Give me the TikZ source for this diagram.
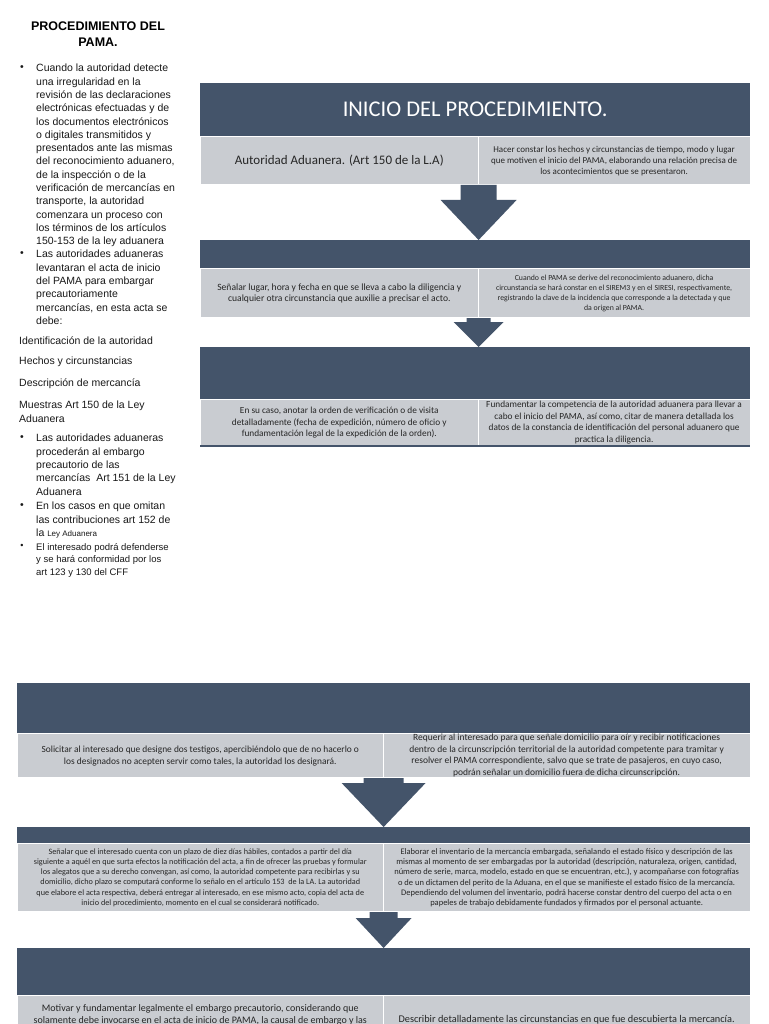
\documentclass[tikz,border=0pt]{standalone}
\usepackage{fontspec}
\setmainfont{Liberation Sans}
\newfontfamily\calibrifont{Carlito}
\usetikzlibrary{calc,positioning}
\definecolor{slate}{RGB}{68,84,106}
\definecolor{paneGray}{RGB}{201,204,209}
\definecolor{inkGray}{RGB}{38,38,38}

\newcommand{\blockarrow}[5]{%
\fill[slate] ($(#1)+(-#3,0)$) -- ($(#2)+(-#3,-#5)$) -- ($(#2)+(-#4,-#5)$) -- (#2) -- ($(#2)+(#4,-#5)$) -- ($(#2)+(#3,-#5)$) -- ($(#1)+(#3,0)$) -- cycle;}

\begin{document}
\begin{tikzpicture}[x=1pt, y=-1pt,
  hdr/.style={fill=slate, draw=none, inner sep=0pt, anchor=north west, text=white, font=\calibrifont\fontsize{22.5}{27}\selectfont},
  pane/.style={fill=paneGray, draw=white, line width=0.6pt, inner sep=0pt, align=center, text=inkGray},
  panetext/.style={inner sep=0pt, align=center, text=inkGray},
  lefttext/.style={anchor=north west, align=left, inner sep=0pt, text=black!90, font=\fontsize{10.5}{13.3}\selectfont},
  dot/.style={inner sep=0pt, text=black!90, font=\fontsize{10.5}{13.3}\selectfont}]
\fill[white] (0,0) rectangle (768,1024);
\useasboundingbox (0,0) rectangle (768,1024);

\node[anchor=north, align=center, inner sep=0pt, font=\bfseries\fontsize{12.5}{16}\selectfont] (title) at (98,22) {PROCEDIMIENTO DEL\\PAMA.};

\node[dot] (dot1) at (22,68) {•};
\node[lefttext] (bul1) at (36,64) {Cuando la autoridad detecte\\una irregularidad en la\\revisión de las declaraciones\\electrónicas efectuadas y de\\los documentos electrónicos\\o digitales transmitidos y\\presentados ante las mismas\\del reconocimiento aduanero,\\de la inspección o de la\\verificación de mercancías en\\transporte, la autoridad\\comenzara un proceso con\\los términos de los artículos\\150-153 de la ley aduanera};
\node[dot] (dot2) at (22,254) {•};
\node[lefttext] (bul2) at (36,250) {Las autoridades aduaneras\\levantaran el acta de inicio\\del PAMA para embargar\\precautoriamente\\mercancías, en esta acta se\\debe:};

\node[lefttext] (ident) at (19,337) {Identificación de la autoridad};
\node[lefttext] (hechos) at (19,357) {Hechos y circunstancias};
\node[lefttext] (descr) at (19,379) {Descripción de mercancía};
\node[lefttext] (muestras) at (19,401) {Muestras Art 150 de la Ley\\Aduanera};

\node[dot] (dot3) at (22,438) {•};
\node[lefttext] (bul3) at (36,434) {Las autoridades aduaneras\\procederán al embargo\\precautorio de las\\mercancías\ \ Art 151 de la Ley\\Aduanera};
\node[dot] (dot4) at (22,506) {•};
\node[lefttext] (bul4) at (36,502) {En los casos en que omitan\\las contribuciones art 152 de\\la {\fontsize{8}{13.3}\selectfont Ley Aduanera}};
\node[dot, font=\fontsize{9}{12}\selectfont] (dot5) at (22,546) {•};
\node[lefttext, font=\fontsize{9.5}{12.5}\selectfont] (bul5) at (36,543) {El interesado podrá defenderse\\y se hará conformidad por los\\art 123 y 130 del CFF};

\node[hdr, minimum width=550, minimum height=53] (hdr1) at (200,83) {INICIO DEL PROCEDIMIENTO.};
\node[pane, minimum width=278, minimum height=48, anchor=north west, font=\calibrifont\fontsize{13}{15}\selectfont] (c1l) at (hdr1.south west) {Autoridad Aduanera. (Art 150 de la L.A)};
\node[pane, minimum width=272, minimum height=48, anchor=north east, font=\calibrifont\fontsize{9}{11}\selectfont] (c1r) at (hdr1.south east) {Hacer constar los hechos y circunstancias de tiempo, modo y lugar\\que motiven el inicio del PAMA, elaborando una relación precisa de\\los acontecimientos que se presentaron.};

\node[hdr, minimum width=550, minimum height=28] (hdr2) at (200,240) {};
\node[pane, minimum width=278, minimum height=49, anchor=north west, font=\calibrifont\fontsize{9.6}{11}\selectfont] (c2l) at (hdr2.south west) {Señalar lugar, hora y fecha en que se lleva a cabo la diligencia y\\cualquier otra circunstancia que auxilie a precisar el acto.};
\node[pane, minimum width=272, minimum height=49, anchor=north east, font=\calibrifont\fontsize{7.8}{10}\selectfont] (c2r) at (hdr2.south east) {Cuando el PAMA se derive del reconocimiento aduanero, dicha\\circunstancia se hará constar en el SIREM3 y en el SIRESI, respectivamente,\\registrando la clave de la incidencia que corresponde a la detectada y que\\da origen al PAMA.};

\node[hdr, minimum width=550, minimum height=52] (hdr3) at (200,347) {};
\node[pane, minimum width=278, minimum height=46, anchor=north west, font=\calibrifont\fontsize{9.3}{11.5}\selectfont] (c3l) at (hdr3.south west) {En su caso, anotar la orden de verificación o de visita\\detalladamente (fecha de expedición, número de oficio y\\fundamentación legal de la expedición de la orden).};
\node[pane, minimum width=272, minimum height=46, anchor=north east, font=\calibrifont\fontsize{9.3}{11.5}\selectfont] (c3r) at (hdr3.south east) {Fundamentar la competencia de la autoridad aduanera para llevar a\\cabo el inicio del PAMA, así como, citar de manera detallada los\\datos de la constancia de identificación del personal aduanero que\\practica la diligencia.};
\draw[slate, line width=2pt] (c3l.south west) -- (c3r.south east);

\coordinate (a1s) at (c1l.south east);
\coordinate (a1e) at (c1l.south east |- hdr2.north);
\blockarrow{a1s}{a1e}{18}{38}{40}
\coordinate (a2s) at (c2l.south east);
\coordinate (a2e) at (c2l.south east |- hdr3.north);
\blockarrow{a2s}{a2e}{12}{25}{25}

\node[hdr, minimum width=733, minimum height=50] (hdr4) at (17,683) {};
\node[pane, minimum width=366, minimum height=44, anchor=north west, font=\calibrifont\fontsize{9.4}{12}\selectfont] (c4l) at (hdr4.south west) {Solicitar al interesado que designe dos testigos, apercibiéndolo que de no hacerlo o\\los designados no acepten servir como tales, la autoridad los designará.};
\node[pane, minimum width=367, minimum height=44, anchor=north east, font=\calibrifont\fontsize{9.5}{11.5}\selectfont] (c4r) at (hdr4.south east) {Requerir al interesado para que señale domicilio para oír y recibir notificaciones\\dentro de la circunscripción territorial de la autoridad competente para tramitar y\\resolver el PAMA correspondiente, salvo que se trate de pasajeros, en cuyo caso,\\podrán señalar un domicilio fuera de dicha circunscripción.};

\node[hdr, minimum width=733, minimum height=16] (hdr5) at (17,827) {};
\node[pane, minimum width=366, minimum height=68, anchor=north west, font=\calibrifont\fontsize{8.2}{10.2}\selectfont] (c5l) at (hdr5.south west) {Señalar que el interesado cuenta con un plazo de diez días hábiles, contados a partir del día\\siguiente a aquél en que surta efectos la notificación del acta, a fin de ofrecer las pruebas y formular\\los alegatos que a su derecho convengan, así como, la autoridad competente para recibirlas y su\\domicilio, dicho plazo se computará conforme lo señalo en el artículo 153\ \ de la LA. La autoridad\\que elabore el acta respectiva, deberá entregar al interesado, en ese mismo acto, copia del acta de\\inicio del procedimiento, momento en el cual se considerará notificado.};
\node[pane, minimum width=367, minimum height=68, anchor=north east, font=\calibrifont\fontsize{8.5}{10.2}\selectfont] (c5r) at (hdr5.south east) {Elaborar el inventario de la mercancía embargada, señalando el estado físico y descripción de las\\mismas al momento de ser embargadas por la autoridad (descripción, naturaleza, origen, cantidad,\\número de serie, marca, modelo, estado en que se encuentran, etc.), y acompañarse con fotografías\\o de un dictamen del perito de la Aduana, en el que se manifieste el estado físico de la mercancía.\\Dependiendo del volumen del inventario, podrá hacerse constar dentro del cuerpo del acta o en\\papeles de trabajo debidamente fundados y firmados por el personal actuante.};

\node[hdr, minimum width=733, minimum height=47] (hdr6) at (17,948) {};
\node[pane, minimum width=366, minimum height=54, anchor=north west] (c6l) at (hdr6.south west) {};
\node[panetext, anchor=north, font=\calibrifont\fontsize{10}{12}\selectfont] (t6l) at ([yshift=-9pt]c6l.north) {Motivar y fundamentar legalmente el embargo precautorio, considerando que\\solamente debe invocarse en el acta de inicio de PAMA, la causal de embargo y las};
\node[pane, minimum width=367, minimum height=54, anchor=north east] (c6r) at (hdr6.south east) {};
\node[panetext, font=\calibrifont\fontsize{10.3}{12}\selectfont] (t6r) at ([yshift=-24pt]c6r.north) {Describir detalladamente las circunstancias en que fue descubierta la mercancía.};

\coordinate (a3s) at (c4l.south east);
\coordinate (a3e) at (c4l.south east |- hdr5.north);
\blockarrow{a3s}{a3e}{20}{42}{44}
\coordinate (a4s) at (c5l.south east);
\coordinate (a4e) at (c5l.south east |- hdr6.north);
\blockarrow{a4s}{a4e}{14}{28}{30}
\end{tikzpicture}
\end{document}
